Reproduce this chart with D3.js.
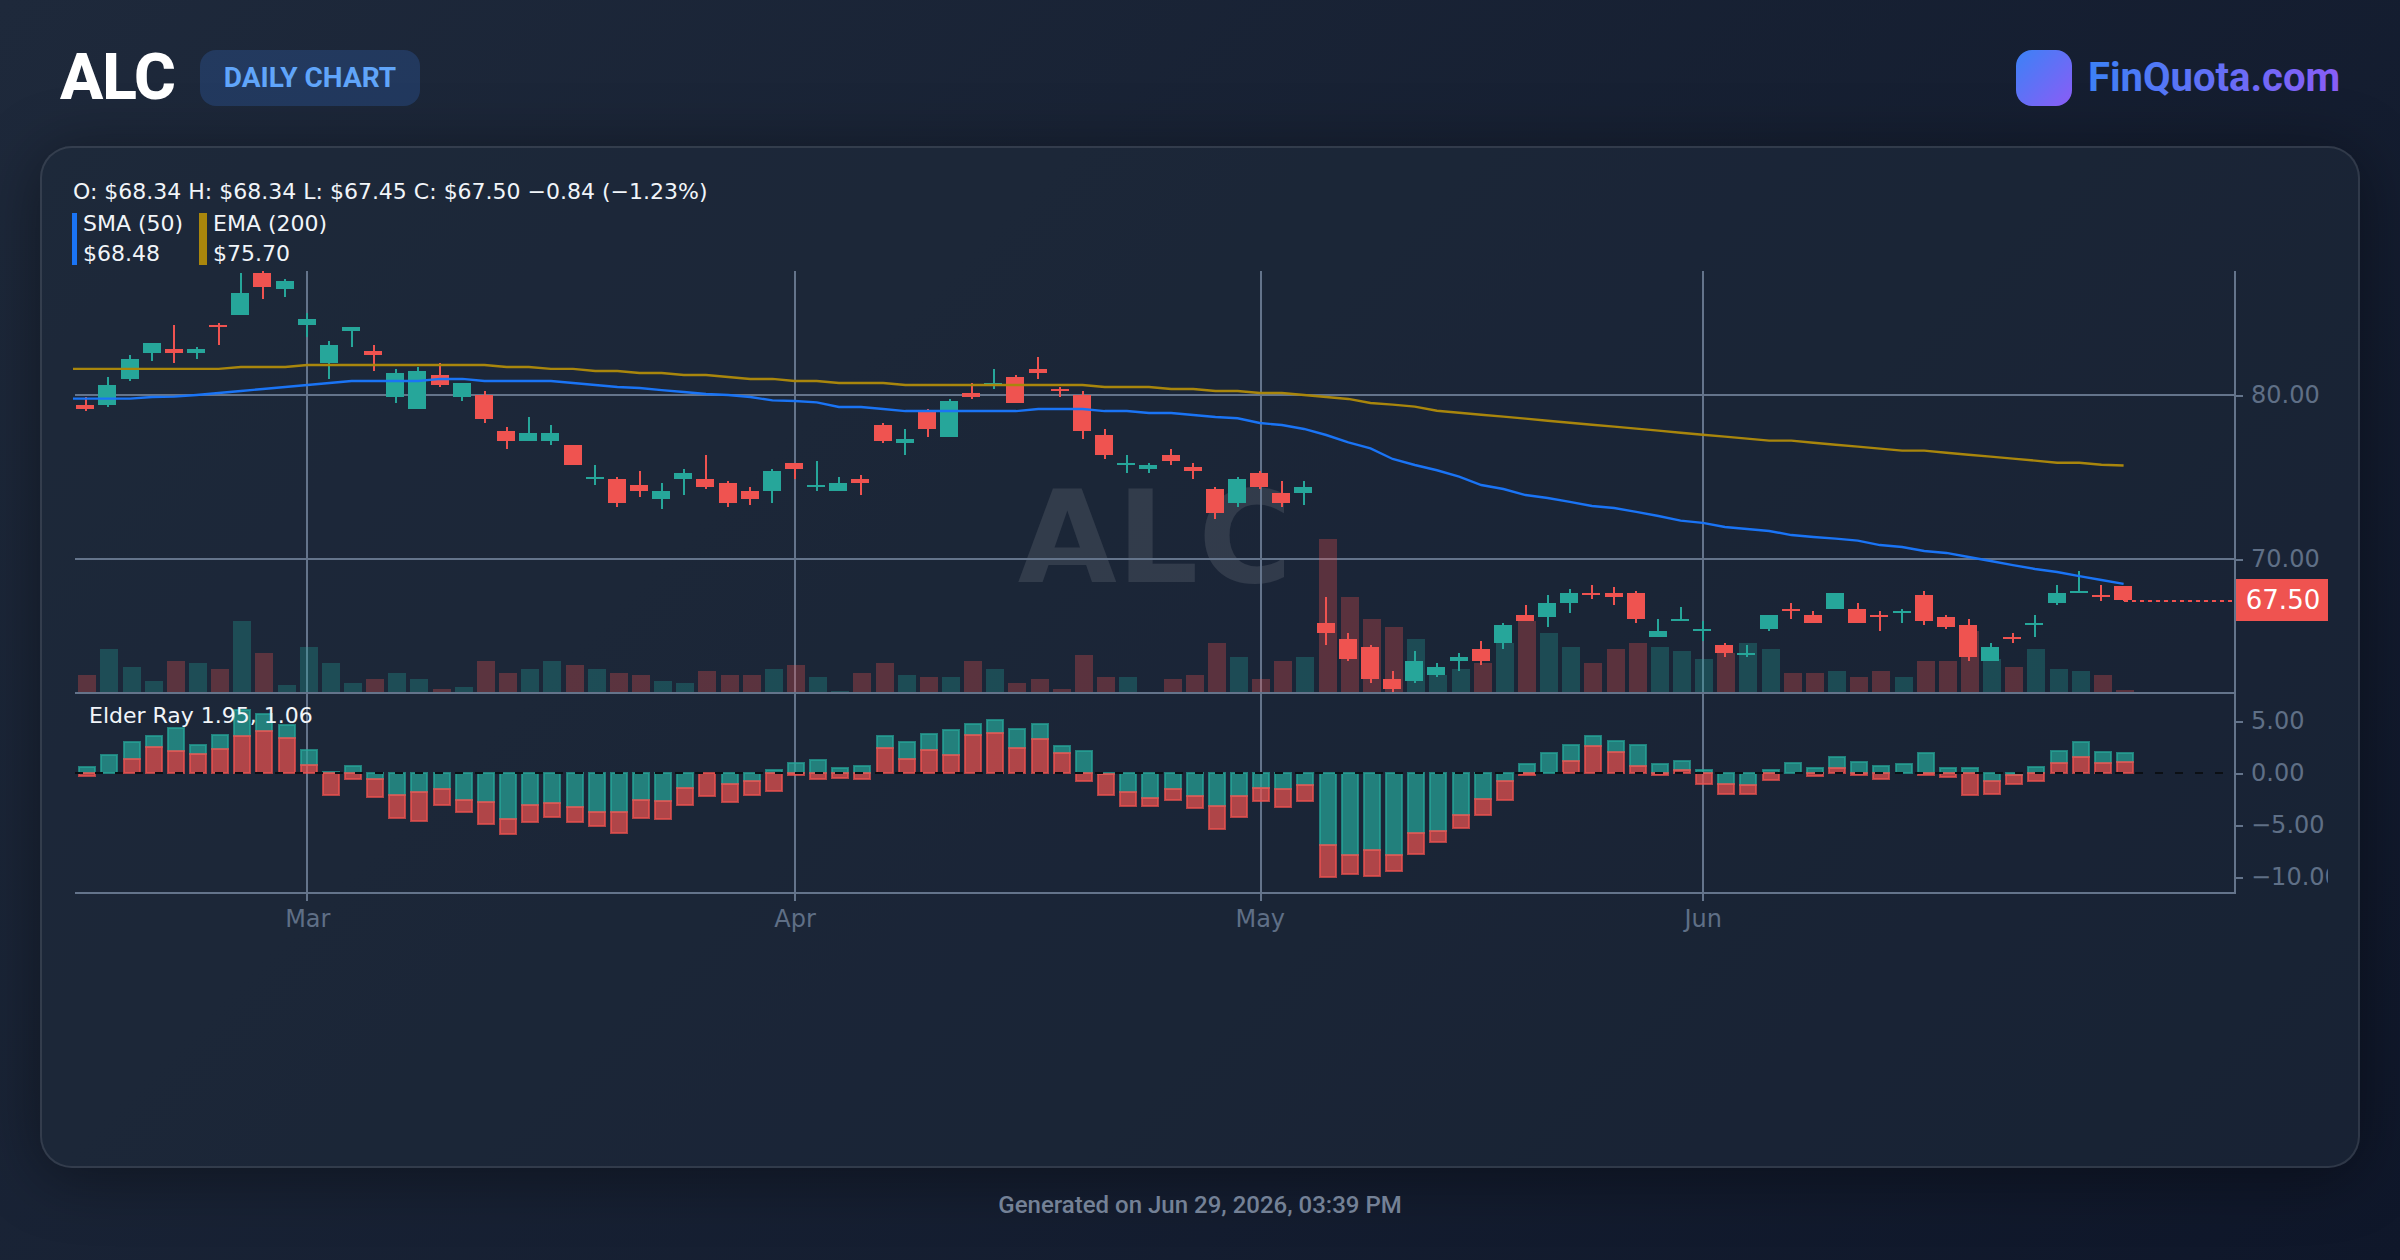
<!DOCTYPE html>
<html>
<head>
<meta charset="utf-8">
<title>ALC Daily Chart</title>
<script src="https://cdn.jsdelivr.net/npm/d3@7/dist/d3.min.js"></script>
<style>
  html, body { margin: 0; padding: 0; }
  body {
    width: 2400px; height: 1260px; overflow: hidden; position: relative;
    background: linear-gradient(135deg, #1e293b 0%, #0f172a 100%);
  }
  #card {
    position: absolute; left: 40px; top: 146px; width: 2316px; height: 1018px;
    border: 2px solid rgba(255,255,255,0.1); border-radius: 32px;
    background: rgba(30,41,59,0.6);
    box-shadow: 0 8px 64px rgba(0,0,0,0.4);
  }
  svg { position: absolute; left: 0; top: 0; }
  .axis path, .axis line { stroke: #64748b; stroke-width: 2; shape-rendering: crispEdges; }
  .axis text { fill: #5f6f86; font: 24px "DejaVu Sans"; }
</style>
</head>
<body>
<div id="card"></div>
<svg id="chart" width="2400" height="1260"></svg>
<script>
// Session months shown on the time axis (index of the first session of each month)
const monthIndexes = [10, 32, 53, 73];
const monthLabels = ["Mar", "Apr", "May", "Jun"];

// Daily prices, oldest session first
const opens = [
  79.39,79.39,80.98,82.56,82.80,82.56,84.27,84.88,87.44,86.46,
  84.27,81.95,83.90,82.68,79.88,79.15,81.22,79.88,80.00,77.80,
  77.20,77.20,76.95,74.88,74.88,74.51,73.66,74.88,74.88,74.63,
  74.15,74.15,75.85,74.39,74.15,74.88,78.17,77.07,79.02,77.44,
  80.12,80.61,81.10,81.59,80.37,80.00,77.56,75.73,75.49,76.34,
  75.61,74.27,73.41,75.24,74.02,74.02,66.10,65.12,64.63,62.68,
  62.56,62.93,63.78,64.51,64.88,66.59,66.46,67.32,67.93,67.93,
  67.93,65.24,66.22,65.61,64.76,64.15,65.73,66.95,66.59,66.95,
  66.95,66.59,66.71,67.80,66.46,65.98,63.78,65.24,65.98,67.32,
  67.93,67.80,68.34];
const highs = [
  79.88,81.10,82.44,83.17,84.27,82.93,84.39,87.44,87.56,87.07,
  85.00,83.29,84.15,83.05,81.59,81.71,81.95,80.73,80.24,78.05,
  78.66,78.17,76.95,75.73,75.00,75.37,74.63,75.49,76.34,74.76,
  74.39,75.49,75.85,75.98,75.00,75.12,78.29,77.93,79.15,79.76,
  80.73,81.59,81.22,82.32,80.49,80.24,77.93,76.34,75.85,76.71,
  75.85,74.39,75.00,75.37,74.76,74.76,67.68,65.49,64.76,63.17,
  64.39,63.66,64.27,65.00,66.10,67.20,67.80,68.17,68.41,68.29,
  68.05,66.34,67.07,66.22,64.88,64.76,66.59,67.32,66.83,67.93,
  67.32,66.83,66.95,68.05,66.59,66.34,64.88,65.49,66.59,68.41,
  69.27,68.41,68.34];
const lows = [
  79.02,79.27,80.85,82.07,81.95,82.20,83.05,84.88,85.85,85.98,
  83.54,80.98,82.93,81.46,79.51,79.15,80.49,79.63,78.29,76.71,
  77.20,76.95,75.73,74.51,73.17,73.78,73.05,73.90,74.27,73.17,
  73.29,73.41,74.88,74.15,74.15,73.90,77.07,76.34,77.44,77.44,
  79.76,80.37,79.51,80.98,79.88,77.32,76.10,75.24,75.24,75.73,
  74.88,72.44,73.17,74.27,73.17,73.29,64.76,63.78,62.44,61.87,
  62.44,62.81,63.17,63.54,64.51,66.22,65.85,66.71,67.56,67.20,
  66.10,65.24,66.22,65.00,64.02,64.02,65.61,66.34,66.10,66.95,
  66.10,65.61,66.10,65.98,65.73,63.78,63.78,64.88,65.24,67.20,
  67.93,67.44,67.45];
const closes = [
  79.15,80.61,82.20,83.17,82.56,82.80,84.15,86.22,86.59,86.95,
  84.63,83.05,84.15,82.44,81.34,81.46,80.61,80.73,78.54,77.20,
  77.68,77.68,75.73,75.00,73.41,74.15,74.15,75.24,74.39,73.41,
  73.66,75.37,75.49,74.51,74.63,74.63,77.20,77.32,77.93,79.63,
  79.88,80.73,79.51,81.34,80.24,77.80,76.34,75.85,75.73,75.98,
  75.37,72.80,74.88,74.39,73.41,74.39,65.49,63.90,62.68,62.07,
  63.78,63.41,64.02,63.78,65.98,66.22,67.32,67.93,67.80,67.68,
  66.34,65.61,66.34,65.73,64.27,64.27,66.59,66.83,66.10,67.93,
  66.10,66.46,66.83,66.22,65.85,64.02,64.63,65.12,66.10,67.93,
  68.05,67.68,67.50];

// Volume in thousands of shares
const volumes = [
  170,430,250,110,310,290,230,710,390,70,
  450,290,90,130,190,130,30,50,310,190,
  230,310,270,230,190,170,110,90,210,170,
  170,230,270,150,10,190,290,170,150,150,
  310,230,90,130,30,370,150,150,0,130,
  170,490,350,130,310,350,1530,950,730,650,
  530,170,230,290,490,710,590,450,290,430,
  490,450,410,330,390,490,430,190,190,210,
  150,210,150,310,310,610,330,250,430,230,
  210,170,20];

// Moving averages
const sma50 = [
  79.78,79.78,79.78,79.88,79.90,80.00,80.12,80.24,80.37,80.49,
  80.61,80.73,80.85,80.85,80.85,80.85,80.98,80.98,80.85,80.85,
  80.85,80.85,80.73,80.61,80.49,80.43,80.30,80.18,80.06,80.00,
  79.88,79.67,79.63,79.55,79.27,79.27,79.15,79.02,79.02,79.02,
  79.02,79.02,79.02,79.15,79.15,79.15,79.02,79.02,78.90,78.90,
  78.78,78.66,78.58,78.29,78.17,77.93,77.56,77.11,76.75,76.10,
  75.73,75.41,75.02,74.51,74.27,73.90,73.72,73.48,73.23,73.11,
  72.87,72.62,72.34,72.20,71.95,71.83,71.71,71.46,71.34,71.24,
  71.12,70.85,70.73,70.49,70.37,70.12,69.88,69.63,69.39,69.21,
  68.96,68.72,68.48];
const ema200 = [
  81.59,81.59,81.59,81.59,81.59,81.59,81.59,81.71,81.71,81.71,
  81.83,81.83,81.83,81.83,81.83,81.83,81.83,81.83,81.83,81.71,
  81.71,81.59,81.59,81.46,81.46,81.34,81.34,81.22,81.22,81.10,
  80.98,80.98,80.85,80.85,80.73,80.73,80.73,80.61,80.61,80.61,
  80.61,80.61,80.61,80.61,80.61,80.61,80.49,80.49,80.49,80.37,
  80.37,80.24,80.24,80.12,80.12,80.00,79.88,79.76,79.51,79.41,
  79.29,79.04,78.92,78.80,78.68,78.56,78.43,78.31,78.19,78.07,
  77.95,77.83,77.70,77.58,77.46,77.34,77.22,77.22,77.09,76.97,
  76.85,76.73,76.61,76.61,76.48,76.36,76.24,76.12,76.00,75.87,
  75.87,75.75,75.70];

// Elder Ray bull and bear power
const bullPower = [
  0.54,1.76,2.95,3.56,4.36,2.66,3.65,6.09,5.67,4.62,
  2.18,0.10,0.64,-0.54,-2.08,-1.79,-1.51,-2.56,-2.76,-4.39,
  -3.08,-2.88,-3.24,-3.72,-3.75,-2.56,-2.69,-1.41,-0.03,-1.03,
  -0.80,0.32,0.93,1.22,0.45,0.64,3.59,3.01,3.78,4.10,
  4.71,5.06,4.23,4.71,2.56,2.08,-0.13,-1.83,-2.37,-1.51,
  -2.21,-3.21,-2.18,-1.41,-1.51,-1.15,-6.95,-7.85,-7.37,-7.92,
  -5.74,-5.54,-4.01,-2.47,-0.80,0.83,1.96,2.72,3.53,3.11,
  2.69,0.83,1.19,0.26,-1.03,-1.15,0.29,0.99,0.48,1.57,
  1.03,0.67,0.90,1.89,0.45,0.45,-0.77,-0.22,0.54,2.15,
  2.95,1.99,1.95];
const bearPower = [
  -0.29,0.03,1.38,2.50,2.15,1.86,2.31,3.56,4.01,3.40,
  0.74,-2.12,-0.58,-2.28,-4.33,-4.62,-3.04,-3.78,-4.87,-5.90,
  -4.71,-4.23,-4.71,-5.10,-5.77,-4.29,-4.39,-3.08,-2.21,-2.79,
  -2.12,-1.73,-0.19,-0.58,-0.48,-0.58,2.40,1.38,2.21,1.76,
  3.69,3.81,2.44,3.30,1.89,-0.80,-2.12,-3.17,-3.21,-2.56,
  -3.33,-5.38,-4.23,-2.66,-3.27,-2.69,-10.00,-9.68,-9.94,-9.42,
  -7.82,-6.63,-5.32,-4.01,-2.56,-0.22,0.03,1.19,2.56,2.05,
  0.71,-0.19,0.32,-1.06,-2.05,-2.02,-0.67,0.03,-0.29,0.51,
  -0.19,-0.58,0.02,-0.16,-0.38,-2.12,-2.02,-1.06,-0.77,0.99,
  1.57,0.96,1.06];

const priceTicks = [70, 80];
const elderTicks = [5, 0, -5, -10];

const UP = "#26a69a", DOWN = "#ef5350", SMA = "#1a74f5", EMA = "#a9860c";
const FONT = '"DejaVu Sans"', HEAD = "Roboto";
const sessions = d3.range(closes.length);
const svg = d3.select("#chart");

// Header and footer ------------------------------------------------------
const defs = svg.append("defs");
const logoGrad = defs.append("linearGradient").attr("id", "logoGrad")
  .attr("x1", 0).attr("y1", 0).attr("x2", 1).attr("y2", 1);
logoGrad.append("stop").attr("offset", 0).attr("stop-color", "#3b82f6");
logoGrad.append("stop").attr("offset", 1).attr("stop-color", "#8b5cf6");
const textGrad = defs.append("linearGradient").attr("id", "textGrad")
  .attr("gradientUnits", "userSpaceOnUse")
  .attr("x1", 2090).attr("y1", 50).attr("x2", 2340).attr("y2", 106);
textGrad.append("stop").attr("offset", 0).attr("stop-color", "#3b82f6");
textGrad.append("stop").attr("offset", 1).attr("stop-color", "#8b5cf6");

svg.append("text").text("ALC").attr("x", 60).attr("y", 99)
  .attr("fill", "#fff").style("font", `800 64px ${HEAD}`).style("letter-spacing", "-1px");
svg.append("rect").attr("x", 200).attr("y", 50).attr("width", 220).attr("height", 56)
  .attr("rx", 16).attr("fill", "rgba(59,130,246,0.2)");
svg.append("text").text("DAILY CHART").attr("x", 310).attr("y", 87).attr("text-anchor", "middle")
  .attr("fill", "#60a5fa").style("font", `700 28px ${HEAD}`);
svg.append("rect").attr("x", 2016).attr("y", 50).attr("width", 56).attr("height", 56)
  .attr("rx", 16).attr("fill", "url(#logoGrad)");
svg.append("text").text("FinQuota.com").attr("x", 2088).attr("y", 91)
  .attr("fill", "url(#textGrad)").style("font", `700 40px ${HEAD}`);
svg.append("text").text("Generated on Jun 29, 2026, 03:39 PM").attr("x", 1200).attr("y", 1213)
  .attr("text-anchor", "middle").attr("fill", "#748196").style("font", `500 24px ${HEAD}`);

// Scales -----------------------------------------------------------------
const x = d3.scaleLinear().domain([0, closes.length - 1]).range([85.8, 2123.6]);
const yPrice = d3.scaleLinear().domain([70, 80]).range([559, 395]);
const yVolume = d3.scaleLinear().domain([0, 1530]).range([692, 539]);
const yElder = d3.scaleLinear().domain([-10, 5]).range([877, 721]);

const RIGHT = 2235, LEFT = 75, TOP = 271, PRICE_BOTTOM = 693, ELDER_BOTTOM = 893;

// Watermark --------------------------------------------------------------
svg.append("text").text("ALC").attr("x", (LEFT + RIGHT) / 2).attr("y", 582)
  .attr("text-anchor", "middle").attr("fill", "rgba(255,255,255,0.1)")
  .style("font", `700 128px ${FONT}`);

// Grid: month lines sit on odd pixel centres so a 2px stroke stays sharp --
const gridX = d => 2 * Math.floor((x(d) + 0.3) / 2) + 1;
const grid = svg.append("g").attr("stroke", "#64748b").attr("stroke-width", 2)
  .attr("shape-rendering", "crispEdges");
grid.selectAll(".v").data(monthIndexes).join("line").attr("class", "v")
  .attr("x1", gridX).attr("x2", gridX)
  .attr("y1", TOP).attr("y2", ELDER_BOTTOM + 8);
grid.selectAll(".h").data(priceTicks).join("line").attr("class", "h")
  .attr("x1", LEFT).attr("x2", RIGHT).attr("y1", d => yPrice(d)).attr("y2", d => yPrice(d));
grid.append("line").attr("x1", LEFT).attr("x2", RIGHT).attr("y1", PRICE_BOTTOM).attr("y2", PRICE_BOTTOM);
grid.append("line").attr("x1", LEFT).attr("x2", RIGHT).attr("y1", ELDER_BOTTOM).attr("y2", ELDER_BOTTOM);

// Volume histogram -------------------------------------------------------
svg.append("g").selectAll("rect").data(sessions).join("rect")
  .attr("x", i => Math.round(x(i) + 1.4 - 9))
  .attr("width", 18)
  .attr("y", i => yVolume(volumes[i]))
  .attr("height", i => yVolume(0) - yVolume(volumes[i]))
  .attr("fill", i => closes[i] >= opens[i] ? UP : DOWN)
  .attr("fill-opacity", 0.3)
  .attr("shape-rendering", "crispEdges");

// Elder Ray histograms: when both powers share a sign, the longer bar only
// shows the part beyond the shorter one
const elderBars = sessions.flatMap(i => {
  const b = bullPower[i], r = bearPower[i];
  const sameSign = b * r > 0;
  const bullLonger = Math.abs(b) >= Math.abs(r);
  return [
    { i, from: sameSign && bullLonger ? r : 0, to: b, c: UP },
    { i, from: sameSign && !bullLonger ? b : 0, to: r, c: DOWN }
  ];
});
svg.append("g").selectAll("rect").data(elderBars).join("rect")
  .attr("x", d => Math.round(x(d.i) + 1.4 - 8))
  .attr("width", 16)
  .attr("y", d => Math.round(Math.min(yElder(d.from), yElder(d.to))))
  .attr("height", d => Math.abs(Math.round(yElder(d.to)) - Math.round(yElder(d.from))))
  .attr("fill", d => d.c).attr("fill-opacity", 0.7)
  .attr("stroke", d => d.c).attr("stroke-opacity", 0.7).attr("stroke-width", 2)
  .attr("shape-rendering", "crispEdges");

svg.append("line").attr("x1", LEFT).attr("x2", RIGHT).attr("y1", yElder(0)).attr("y2", yElder(0))
  .attr("stroke", "#0b0f14").attr("stroke-width", 2).attr("stroke-dasharray", "8 12")
  .attr("shape-rendering", "crispEdges");

// Last price marker line
const lastIndex = closes.length - 1;
svg.append("line").attr("x1", x(lastIndex)).attr("x2", RIGHT - 1)
  .attr("y1", yPrice(closes[lastIndex]) + 1).attr("y2", yPrice(closes[lastIndex]) + 1)
  .attr("stroke", DOWN).attr("stroke-width", 2).attr("stroke-dasharray", "4 4")
  .attr("shape-rendering", "crispEdges");

// Candles ----------------------------------------------------------------
const candle = svg.append("g").attr("shape-rendering", "crispEdges");
candle.selectAll(".wick").data(sessions).join("rect").attr("class", "wick")
  .attr("x", i => Math.round(x(i) - 1)).attr("width", 2)
  .attr("y", i => Math.round(yPrice(highs[i])))
  .attr("height", i => Math.round(yPrice(lows[i])) - Math.round(yPrice(highs[i])))
  .attr("fill", i => closes[i] >= opens[i] ? UP : DOWN);
candle.selectAll(".body").data(sessions).join("rect").attr("class", "body")
  .attr("x", i => Math.round(x(i) - 9.6)).attr("width", 18)
  .attr("y", i => Math.round(yPrice(Math.max(opens[i], closes[i]))))
  .attr("height", i => Math.max(2, Math.round(yPrice(Math.min(opens[i], closes[i]))) - Math.round(yPrice(Math.max(opens[i], closes[i])))))
  .attr("fill", i => closes[i] >= opens[i] ? UP : DOWN);

// Moving average lines: the first value carries back to the pane's left edge
const maLine = series => d3.line().x(i => i < 0 ? LEFT - 2 : x(i)).y(i => yPrice(series[Math.max(i, 0)]))([-1, ...sessions]);
svg.append("path").attr("d", maLine(ema200)).attr("fill", "none").attr("stroke", EMA).attr("stroke-width", 2.4);
svg.append("path").attr("d", maLine(sma50)).attr("fill", "none").attr("stroke", SMA).attr("stroke-width", 2.4);

// Axes -------------------------------------------------------------------
defs.append("clipPath").attr("id", "axisClip").append("rect")
  .attr("x", 0).attr("y", 0).attr("width", 2328).attr("height", 1260);
const axes = svg.append("g").attr("clip-path", "url(#axisClip)");

const priceAxis = d3.axisRight(yPrice).tickValues(priceTicks).tickSize(8).tickPadding(8)
  .tickSizeOuter(0).tickFormat(d3.format(".2f"));
axes.append("g").attr("class", "axis").attr("transform", `translate(${RIGHT},0)`).call(priceAxis)
  .call(g => g.select(".domain").attr("d", `M0,${TOP}V${ELDER_BOTTOM + 1}`));
const elderAxis = d3.axisRight(yElder).tickValues(elderTicks).tickSize(8).tickPadding(8)
  .tickSizeOuter(0).tickFormat(d3.format(".2f"));
axes.append("g").attr("class", "axis").attr("transform", `translate(${RIGHT},0)`).call(elderAxis)
  .call(g => g.select(".domain").remove());
const timeAxis = d3.axisBottom(x).tickValues(monthIndexes).tickSize(8).tickPadding(9).tickSizeOuter(0)
  .tickFormat(i => monthLabels[monthIndexes.indexOf(i)]);
axes.append("g").attr("class", "axis").attr("transform", `translate(0,${ELDER_BOTTOM})`).call(timeAxis)
  .call(g => g.select(".domain").remove())
  .call(g => g.selectAll("line").remove());

// Price tag --------------------------------------------------------------
svg.append("rect").attr("x", RIGHT + 1).attr("y", 579).attr("width", 92).attr("height", 42).attr("fill", DOWN);
svg.append("text").text(d3.format(".2f")(closes[lastIndex])).attr("x", 2283).attr("y", 609)
  .attr("text-anchor", "middle").attr("fill", "#fff").style("font", `26px ${FONT}`);

// Legend -----------------------------------------------------------------
const legendFont = `22px ${FONT}`;
const legend = (txt, lx, ly) => svg.append("text").text(txt).attr("x", lx).attr("y", ly)
  .attr("fill", "#f1f5f9").style("font", legendFont);
const fmt = d3.format(".2f");
const last = lastIndex;
const chg = closes[last] - opens[last];
legend(`O: $${fmt(opens[last])} H: $${fmt(highs[last])} L: $${fmt(lows[last])} C: $${fmt(closes[last])} ${fmt(chg)} (${fmt(chg / opens[last] * 100)}%)`, 73, 199);
svg.append("rect").attr("x", 72).attr("y", 213).attr("width", 5).attr("height", 52).attr("fill", SMA);
svg.append("rect").attr("x", 199).attr("y", 213).attr("width", 8).attr("height", 52).attr("fill", EMA);
legend("SMA (50)", 83, 231);
legend(`$${fmt(sma50[last])}`, 83, 261);
legend("EMA (200)", 213, 231);
legend(`$${fmt(ema200[last])}`, 213, 261);
legend(`Elder Ray ${fmt(bullPower[last])}, ${fmt(bearPower[last])}`, 89, 723);
</script>
</body>
</html>
